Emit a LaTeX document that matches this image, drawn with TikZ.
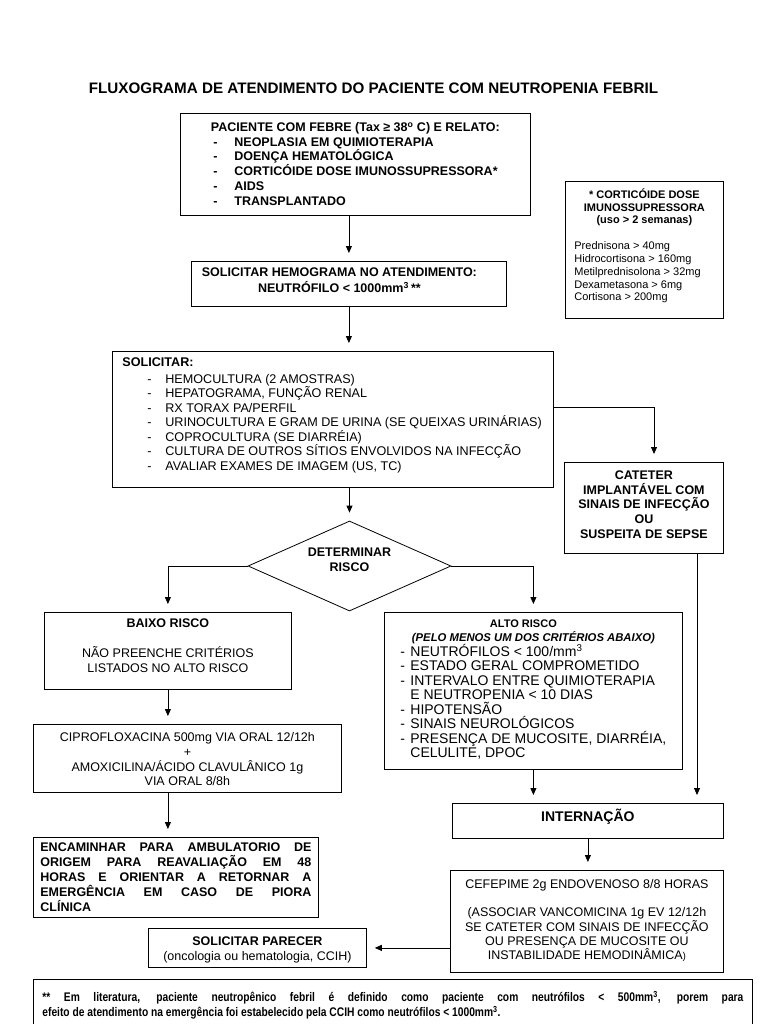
\documentclass[tikz,border=0pt]{standalone}
\usepackage{fontspec}
\setmainfont{Liberation Sans}
\newfontfamily\narrowsans[FakeStretch=0.82]{Liberation Sans}
\usetikzlibrary{arrows.meta,shapes.geometric}
\newcommand\fsz[2]{\fontsize{#1pt}{#2pt}\selectfont}
\newcommand\cellpb[5]{\parbox[c][#2pt][t]{#1pt}{#4\rule{0pt}{#3pt}#5}}
\newcommand\itm[3]{\hspace*{#1pt}\makebox[#2pt][l]{-}#3}
\begin{document}
\begin{tikzpicture}[x=1pt,y=-1pt,
 box/.style={draw, line width=0.8pt, inner sep=0pt, anchor=north west},
 arr/.style={-{Triangle[length=7pt,width=6pt]}, line width=0.8pt, shorten >=8pt}]
\useasboundingbox[fill=white] (0,0) rectangle (768,1024);

\node[anchor=base, font=\bfseries\fsz{15.2}{17}] (title) at (373.5,94) {FLUXOGRAMA DE ATENDIMENTO DO PACIENTE COM NEUTROPENIA FEBRIL};

\node[box, minimum width=350pt, minimum height=102pt] (pac) at (180,113) {\cellpb{350}{102}{18}{\bfseries\fsz{12.5}{14.8}}{{\centering PACIENTE COM FEBRE (Tax ≥ 38\textsuperscript{o} C) E RELATO:\par}\itm{33}{21}{NEOPLASIA EM QUIMIOTERAPIA}\\\itm{33}{21}{DOENÇA HEMATOLÓGICA}\\\itm{33}{21}{CORTICÓIDE DOSE IMUNOSSUPRESSORA*}\\\itm{33}{21}{AIDS}\\\itm{33}{21}{TRANSPLANTADO}}};

\node[box, minimum width=158pt, minimum height=137pt, inner xsep=9pt] (cort) at (565,181) {\cellpb{140}{137}{17}{\fsz{11}{12.8}}{{\centering\bfseries * CORTICÓIDE DOSE\\IMUNOSSUPRESSORA\\(uso > 2 semanas)\par}\vspace{12.8pt}Prednisona > 40mg\\Hidrocortisona > 160mg\\Metilprednisolona > 32mg\\Dexametasona > 6mg\\Cortisona > 200mg}};

\node[box, minimum width=315pt, minimum height=45pt] (hemo) at (191,261) {\cellpb{315}{45}{15}{\bfseries\fsz{12.5}{16}}{\makebox[296pt][c]{SOLICITAR HEMOGRAMA NO ATENDIMENTO:}\\\makebox[296pt][c]{NEUTRÓFILO < 1000mm\textsuperscript{3}\,**}}};

\node[box, minimum width=441pt, minimum height=136pt, inner xsep=10pt] (sol) at (112,351) {\cellpb{421}{136}{15}{\fsz{12.6}{14.5}}{\textbf{SOLICITAR:}\\[2.5pt]\itm{25}{18}{HEMOCULTURA (2 AMOSTRAS)}\\\itm{25}{18}{HEPATOGRAMA, FUNÇÃO RENAL}\\\itm{25}{18}{RX TORAX PA/PERFIL}\\\itm{25}{18}{URINOCULTURA E GRAM DE URINA (SE QUEIXAS URINÁRIAS)}\\\itm{25}{18}{COPROCULTURA (SE DIARRÉIA)}\\\itm{25}{18}{CULTURA DE OUTROS SÍTIOS ENVOLVIDOS NA INFECÇÃO}\\\itm{25}{18}{AVALIAR EXAMES DE IMAGEM (US, TC)}}};

\node[box, minimum width=159pt, minimum height=91pt] (cat) at (564,462) {\cellpb{159}{91}{17}{\centering\bfseries\fsz{12.5}{14.7}}{CATETER\\IMPLANTÁVEL COM\\SINAIS DE INFECÇÃO\\OU\\SUSPEITA DE SEPSE}};

\node[draw, diamond, aspect=2.25, line width=0.8pt, minimum width=203pt, minimum height=90pt, inner sep=0pt, align=center, font=\bfseries\fsz{12.5}{15}, text depth=12pt] (risk) at (349.5,566) {DETERMINAR\\RISCO};

\node[box, minimum width=247pt, minimum height=77pt] (baixo) at (44,612) {\cellpb{247}{77}{15}{\centering\fsz{12.5}{15}}{\textbf{BAIXO RISCO}\\[15pt]NÃO PREENCHE CRITÉRIOS\\LISTADOS NO ALTO RISCO}};

\node[box, minimum width=308pt, minimum height=68pt] (cipro) at (33,724) {\cellpb{308}{68}{17.5}{\centering\fsz{12.5}{14.6}}{CIPROFLOXACINA 500mg VIA ORAL 12/12h\\+\\AMOXICILINA/ÁCIDO CLAVULÂNICO 1g\\VIA ORAL 8/8h}};

\node[box, minimum width=285pt, minimum height=80pt, inner xsep=7pt] (enc) at (33,837) {\cellpb{271}{80}{14}{\bfseries\fsz{12.5}{15}}{ENCAMINHAR PARA AMBULATORIO DE\linebreak ORIGEM PARA REAVALIAÇÃO EM 48\linebreak HORAS E ORIENTAR A RETORNAR A\linebreak EMERGÊNCIA EM CASO DE PIORA\linebreak CLÍNICA}};

\node[box, minimum width=298pt, minimum height=157pt] (alto) at (384,612) {\cellpb{298}{157}{15}{\fsz{14}{14.5}}{{\centering\bfseries\fsz{11}{14.5}\hspace*{-20pt}ALTO RISCO\\\bfseries\itshape\fsz{11.3}{14.5}(PELO MENOS UM DOS CRITÉRIOS ABAIXO)\par}\itm{16}{10}{NEUTRÓFILOS < 100/mm\textsuperscript{3}}\\\itm{16}{10}{ESTADO GERAL COMPROMETIDO}\\\itm{16}{10}{INTERVALO ENTRE QUIMIOTERAPIA}\\\hspace*{26pt}E NEUTROPENIA < 10 DIAS\\\itm{16}{10}{HIPOTENSÃO}\\\itm{16}{10}{SINAIS NEUROLÓGICOS}\\\itm{16}{10}{PRESENÇA DE MUCOSITE, DIARRÉIA,}\\\hspace*{26pt}CELULITE, DPOC}};

\node[box, minimum width=271pt, minimum height=35pt] (intern) at (452,803) {\cellpb{271}{35}{18}{\centering\bfseries\fsz{14}{16}}{INTERNAÇÃO}};

\node[box, minimum width=273pt, minimum height=102pt] (cefe) at (450,870) {\cellpb{273}{102}{18}{\centering\fsz{12.5}{14.2}}{CEFEPIME 2g ENDOVENOSO 8/8 HORAS\\[14.2pt](ASSOCIAR VANCOMICINA 1g EV 12/12h\\SE CATETER COM SINAIS DE INFECÇÃO\\OU PRESENÇA DE MUCOSITE OU\\INSTABILIDADE HEMODINÂMICA{\fsz{10}{14.2})}}};

\node[box, minimum width=218pt, minimum height=39pt] (par) at (148,928) {\cellpb{218}{39}{17}{\centering\fsz{12.5}{15}}{\textbf{SOLICITAR PARECER}\\(oncologia ou hematologia, CCIH)}};

\node[box, minimum width=719pt, minimum height=60pt, inner xsep=9pt] (nota) at (33,979) {\cellpb{701}{60}{22}{\narrowsans\bfseries\fsz{12.5}{15}}{** Em literatura, paciente neutropênico febril é definido como paciente com neutrófilos < 500mm\textsuperscript{3}, porem para\linebreak efeito de atendimento na emergência foi estabelecido pela CCIH como neutrófilos < 1000mm\textsuperscript{3}.}};

\coordinate (c1) at (654,407);
\coordinate (c2) at (697,560);

\draw[arr] (pac.south -| hemo.north) -- (hemo.north);
\draw[arr] (hemo.south) -- (hemo.south |- sol.north);
\draw[arr] (c1 -| sol.east) -- (c1) -- (c1 |- cat.north);
\draw[arr] (risk.north |- sol.south) -- (risk.north);
\draw[arr] (risk.west) -| (baixo.north);
\draw[arr] (risk.east) -| (alto.north);
\draw[arr] (baixo.south) -- (baixo.south |- cipro.north);
\draw[arr] (baixo.south |- cipro.south) -- (baixo.south |- enc.north);
\draw[arr] (alto.south) -- (alto.south |- intern.north);
\draw[arr] (c2 |- cat.south) -- (c2 |- intern.north);
\draw[arr] (intern.south) -- (intern.south |- cefe.north);
\draw[arr] (cefe.west |- par.east) -- (par.east);
\end{tikzpicture}
\end{document}
